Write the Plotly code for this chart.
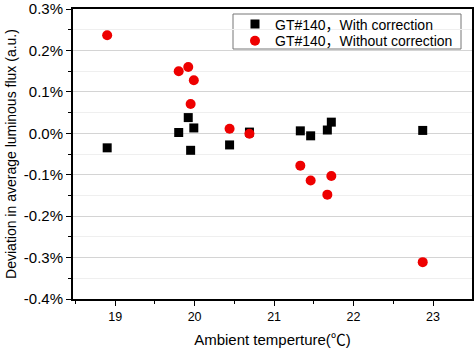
import plotly.graph_objects as go

# Data (deviation in %)
temp_with = [18.90, 19.80, 19.92, 19.99, 19.95, 20.44, 20.69, 21.33, 21.46, 21.67, 21.72, 22.87]
dev_with = [-0.035, 0.002, 0.038, 0.013, -0.041, -0.028, 0.003, 0.006, -0.006, 0.008, 0.027, 0.007]

temp_without = [18.90, 19.80, 19.92, 19.99, 19.95, 20.44, 20.69, 21.33, 21.46, 21.72, 21.67, 22.87]
dev_without = [0.237, 0.150, 0.160, 0.128, 0.071, 0.011, -0.001, -0.078, -0.114, -0.103, -0.148, -0.311]

x_ticks = [19, 20, 21, 22, 23]
y_ticks = [-0.4, -0.3, -0.2, -0.1, 0.0, 0.1, 0.2, 0.3]
y_labels = ["-0.4%", "-0.3%", "-0.2%", "-0.1%", "0.0%", "0.1%", "0.2%", "0.3%"]

FONT = "Liberation Sans, Arial, Noto Sans CJK SC, sans-serif"
XR = [18.47, 23.49]
YR = [-0.4, 0.3002]

T, B = 9, 49
PH = 348 - T - B
BOT = 348 - B


def py(pix):
    return (BOT - pix) / PH


fig = go.Figure()
fig.add_trace(go.Scatter(x=temp_with, y=dev_with, mode="markers",
                         name="GT#140，With correction", legend="legend",
                         marker=dict(symbol="square", size=9, color="black")))
fig.add_trace(go.Scatter(x=temp_without, y=dev_without, mode="markers",
                         name="GT#140，Without correction", legend="legend2",
                         marker=dict(symbol="circle", size=10, color="#ee0000")))

leg_common = dict(xanchor="left", yanchor="middle", bgcolor="rgba(0,0,0,0)", borderwidth=0,
                  font=dict(size=14, family=FONT, color="black"), itemwidth=30)

fig.update_layout(
    width=474, height=348,
    margin=dict(l=73, r=2, t=T, b=B, autoexpand=False),
    paper_bgcolor="white", plot_bgcolor="white",
    font=dict(family=FONT, color="black"),
    showlegend=True,
    legend=dict(x=0.406, y=py(24.5), **leg_common),
    legend2=dict(x=0.406, y=py(41.2), **leg_common),
    shapes=[dict(type="rect", xref="paper", yref="paper",
                 x0=(233 - 73) / 399, x1=(461 - 73) / 399,
                 y0=py(49), y1=py(14),
                 line=dict(color="#777777", width=1), fillcolor="white", layer="below")],
    xaxis=dict(range=XR, tickvals=x_ticks, ticktext=[str(v) for v in x_ticks],
               showgrid=False, zeroline=False, automargin=False,
               showline=True, linewidth=2, linecolor="black", mirror=True,
               ticks="outside", ticklen=5, tickwidth=1.2, tickcolor="black",
               minor=dict(dtick=0.5, tick0=19, ticks="outside", ticklen=3, tickcolor="black", showgrid=False),
               tickfont=dict(size=12.5), ticklabeloverflow="allow",
               title=dict(text="Ambient temperture(℃)", font=dict(size=15), standoff=12)),
    yaxis=dict(range=YR, tickvals=y_ticks, ticktext=y_labels,
               showgrid=True, gridcolor="#d4d4d4", gridwidth=1, zeroline=False, automargin=False,
               showline=True, linewidth=2, linecolor="black", mirror=True,
               ticks="outside", ticklen=5, tickwidth=1.2, tickcolor="black",
               minor=dict(dtick=0.05, tick0=0, ticks="outside", ticklen=3, tickcolor="black",
                          showgrid=True, gridcolor="#efefef"),
               tickfont=dict(size=15), ticklabeloverflow="allow",
               title=dict(text="Deviation in average luminous flux (a.u.)", font=dict(size=14), standoff=4)),
    xaxis2=dict(range=XR, overlaying="x", side="top", anchor="y", automargin=False,
                tickvals=[19, 19.5, 20, 20.5, 21, 21.5, 22, 22.5, 23], ticks="inside", ticklen=5,
                tickwidth=1.2, tickcolor="black", showticklabels=False, showgrid=False, zeroline=False),
    yaxis2=dict(range=YR, overlaying="y", side="right", anchor="x", automargin=False,
                tickvals=[-0.35, -0.3, -0.25, -0.2, -0.15, -0.1, -0.05, 0, 0.05, 0.1, 0.15, 0.2, 0.25],
                ticks="inside", ticklen=4, tickwidth=1.2, tickcolor="black",
                showticklabels=False, showgrid=False, zeroline=False),
)

fig.write_html("out.html")
